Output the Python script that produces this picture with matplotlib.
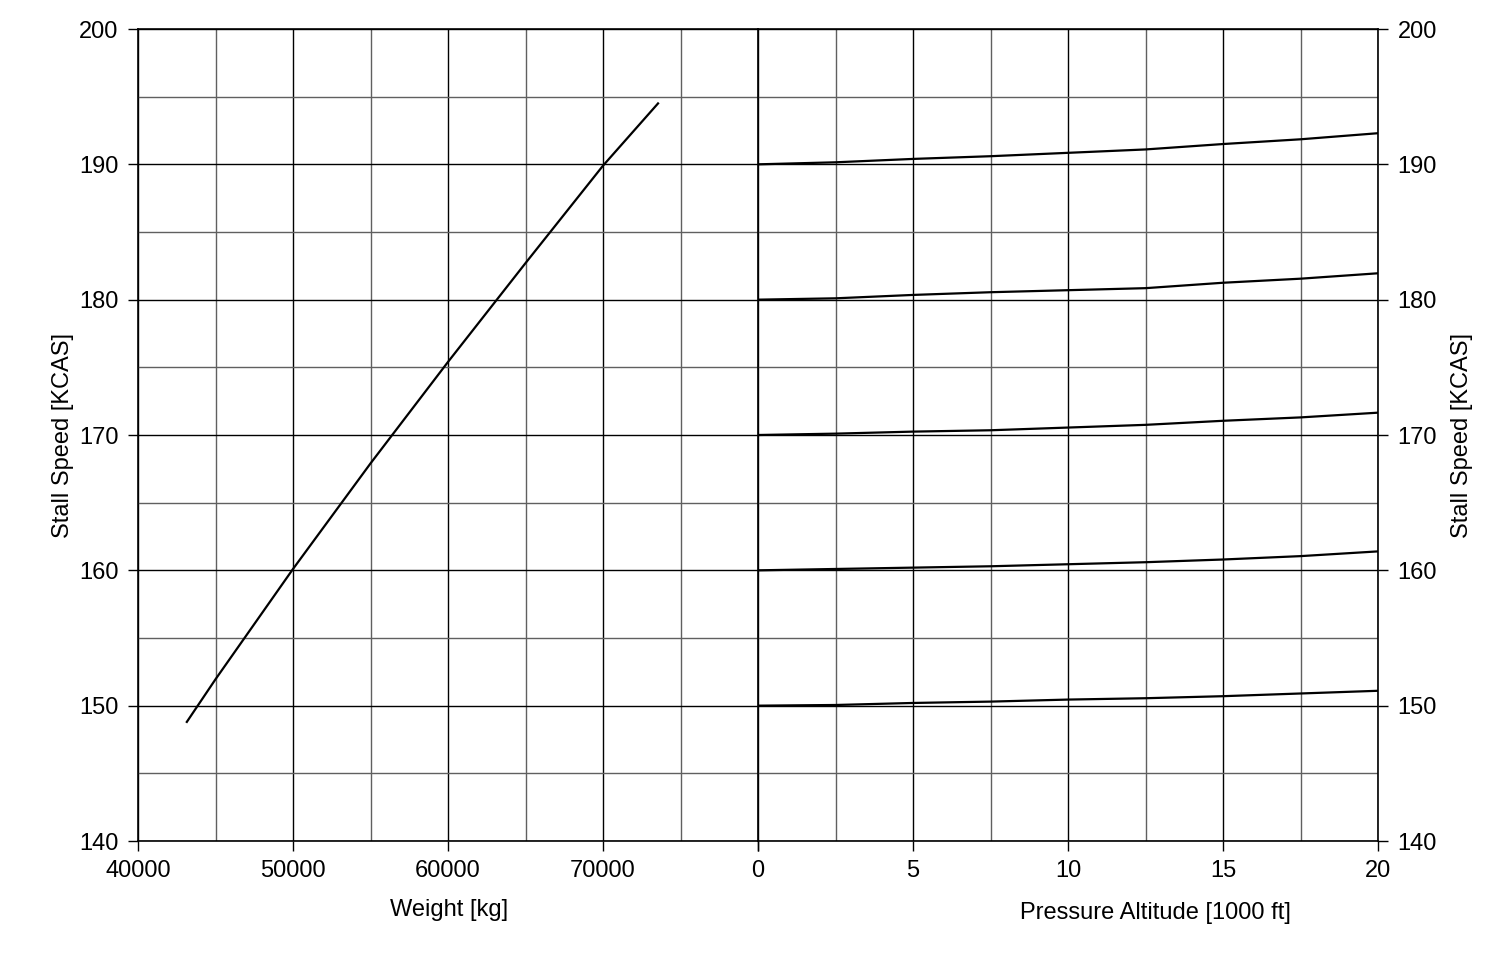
import matplotlib.pyplot as plt
from matplotlib.ticker import MultipleLocator

plt.rcParams['font.family'] = ['Liberation Sans', 'DejaVu Sans']

# weight vs stall speed
weight = [43150, 45000, 50000, 55000, 60000, 65000, 70000, 73550]
speed_w = [148.8, 151.95, 160.1, 167.9, 175.4, 182.7, 189.9, 194.5]

# pressure altitude corrections
alt = [0, 2.5, 5, 7.5, 10, 12.5, 15, 17.5, 20]
alt_lines = [
    [150.0, 150.05, 150.2, 150.3, 150.45, 150.55, 150.7, 150.9, 151.1],
    [160.0, 160.1, 160.2, 160.3, 160.45, 160.6, 160.8, 161.05, 161.4],
    [170.0, 170.1, 170.25, 170.35, 170.55, 170.75, 171.05, 171.3, 171.65],
    [180.0, 180.1, 180.35, 180.55, 180.7, 180.85, 181.25, 181.55, 181.95],
    [190.0, 190.15, 190.4, 190.6, 190.85, 191.1, 191.5, 191.85, 192.3],
]

W, H = 1497, 960
fig = plt.figure(figsize=(W / 100, H / 100), dpi=100)
x0, x1, x2 = 138, 758, 1378
ytop, ybot = 29, 841
axL = fig.add_axes([x0 / W, (H - ybot) / H, (x1 - x0) / W, (ybot - ytop) / H])
axR = fig.add_axes([x1 / W, (H - ybot) / H, (x2 - x1) / W, (ybot - ytop) / H])

for ax in (axL, axR):
    ax.set_ylim(140, 200)
    ax.yaxis.set_major_locator(MultipleLocator(10))
    ax.yaxis.set_minor_locator(MultipleLocator(5))
    ax.grid(which='major', color='black', lw=1.0)
    ax.grid(which='minor', color='#606060', lw=1.0)
    ax.set_axisbelow(True)
    for s in ax.spines.values():
        s.set_linewidth(1.2)
    ax.tick_params(which='major', length=7, width=1.0, labelsize=17, pad=7)
    ax.tick_params(which='minor', length=0)
axL.spines['right'].set_visible(False)

axL.set_xlim(40000, 80000)
axL.xaxis.set_minor_locator(MultipleLocator(5000))
axL.set_xticks([40000, 50000, 60000, 70000, 80000])
axL.set_xticklabels(['40000', '50000', '60000', '70000', ''])
axL.plot(weight, speed_w, color='black', lw=1.6)
axL.set_ylabel('Stall Speed [KCAS]', fontsize=17, labelpad=4)

axR.set_xlim(0, 20)
axR.xaxis.set_major_locator(MultipleLocator(5))
axR.xaxis.set_minor_locator(MultipleLocator(2.5))
axR.yaxis.tick_right()
axR.yaxis.set_label_position('right')
axR.set_ylabel('Stall Speed [KCAS]', fontsize=17, labelpad=10)
for ys in alt_lines:
    axR.plot(alt, ys, color='black', lw=1.6)

fig.text(449 / W, 1 - 910 / H, 'Weight [kg]', fontsize=17, ha='center', va='center')
fig.text(1155 / W, 1 - 913 / H, 'Pressure Altitude [1000 ft]', fontsize=17, ha='center', va='center')

fig.savefig('out.png', dpi=100)
